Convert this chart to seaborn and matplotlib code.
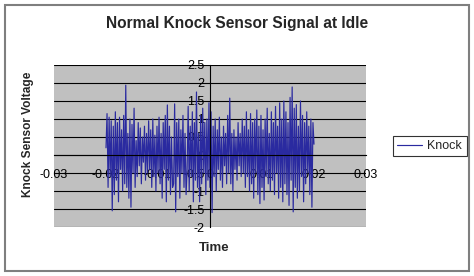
import numpy as np
import pandas as pd
import matplotlib
matplotlib.use("Agg")
import matplotlib.pyplot as plt
import seaborn as sns
from matplotlib.patches import Rectangle

# ---- data ----
t_start = -0.02
t_step = 0.0002
knock_voltage = [
    0.2, 1.15, -0.9, 1.05, -0.6, 0.95, -1.55, 0.8, -1.1, 1.2,
    -0.7, 0.9, -1.3, 1.05, -0.4, 0.7, -1.0, 1.1, -0.8, 1.94,
    -0.9, 0.6, -1.2, 1.0, -1.45, 0.85, -0.5, 1.3, -0.9, 0.4,
    -0.6, 0.9, -0.3, 0.75, -0.8, 0.5, -0.2, 0.8, -0.7, 0.6,
    -0.5, 0.95, -0.4, 0.7, -0.9, 1.0, -0.6, 0.55, -1.0, 0.8,
    -0.5, 1.05, -0.8, 0.6, -1.2, 0.9, -0.4, 1.1, -1.3, 1.39,
    -0.7, 0.8, -1.1, 0.5, -0.9, -0.8, 1.42, -1.58, 0.9, -0.6,
    1.0, -1.2, 0.7, -0.5, 1.1, -0.9, 0.6, -1.1, -0.4, 1.35,
    -1.0, 0.8, -0.6, 1.2, -1.3, 0.9, -0.7, 1.75, -0.9, 0.6,
    -1.3, 1.1, -0.8, 1.3, -0.5, 0.9, -1.1, 1.0, -0.7, 1.45,
    -0.9, 1.2, -1.6, 0.8, -0.6, 1.0, -1.0, 0.7, -0.4, 1.05,
    -0.7, 0.5, -0.9, 0.8, -0.3, 0.6, -0.8, 1.1, -0.5, 1.58,
    -0.8, 0.6, -1.0, 0.7, -0.4, 0.5, -0.7, 0.9, -0.3, 0.6,
    -0.6, 1.0, -0.5, 0.8, -0.9, 1.2, -0.6, 0.7, -1.0, 1.15,
    -0.8, 0.9, -1.2, 1.0, -0.5, 1.25, -1.1, 0.8, -1.35, 1.1,
    -0.9, 0.7, -1.25, 1.0, -0.6, 1.3, -0.8, 0.6, -1.0, 1.2,
    -0.7, 0.9, -1.1, 1.35, -0.5, 0.8, -1.2, 1.45, -0.9, 1.0,
    -1.3, 1.5, -0.8, 1.2, -1.1, 0.9, -1.4, 1.6, -0.7, 1.89,
    -1.58, 1.3, -0.9, 1.4, -1.2, 0.8, -1.0, 1.5, -0.6, 1.1,
    -1.3, 0.9, -0.8, 1.2, -0.5, 0.8, -1.1, 1.0, -1.45, 0.9,
    0.3,
]
time = [round(t_start + t_step * i, 6) for i in range(len(knock_voltage))]
x_ticks = [-0.03, -0.02, -0.01, 0, 0.01, 0.02, 0.03]
x_tick_labels = ["-0.03", "-0.02", "-0.01", "0", "0.01", "0.02", "0.03"]
y_ticks = [-2, -1.5, -1, -0.5, 0, 0.5, 1, 1.5, 2, 2.5]
y_tick_labels = ["-2", "-1.5", "-1", "-0.5", "0", "0.5", "1", "1.5", "2", "2.5"]

df = pd.DataFrame({"Time": time, "Voltage": knock_voltage})

sns.set_style("white")
plt.rcParams["font.family"] = ["Liberation Sans", "DejaVu Sans"]

W, H = 474, 276
fig = plt.figure(figsize=(W / 100, H / 100), dpi=100)
fig.patch.set_facecolor("white")

left, right, top, bottom = 54, 366, 65, 227
ax = fig.add_axes([left / W, 1 - bottom / H, (right - left) / W, (bottom - top) / H])
ax.set_facecolor("#C0C0C0")

line_color = "#2a2aa0"
sns.lineplot(data=df, x="Time", y="Voltage", ax=ax, color=line_color,
             linewidth=0.85, label="Knock", sort=False, zorder=2)

ax.set_xlim(-0.03, 0.03)
ax.set_ylim(-2, 2.5)

# horizontal gridlines
for yv in y_ticks:
    ax.axhline(yv, color="black", linewidth=0.8, zorder=1)

# axes crossing at zero (Excel style)
for s in ["top", "right"]:
    ax.spines[s].set_visible(False)
ax.spines["left"].set_position(("data", 0))
ax.spines["bottom"].set_position(("data", 0))
for s in ["left", "bottom"]:
    ax.spines[s].set_color("black")
    ax.spines[s].set_linewidth(0.8)
    ax.spines[s].set_zorder(3)

ax.set_xticks(x_ticks)
ax.set_xticklabels(x_tick_labels)
ax.set_yticks(y_ticks)
ax.set_yticklabels(y_tick_labels)
ax.tick_params(axis="both", direction="out", length=3, width=0.8,
               labelsize=9, colors="black")
ax.tick_params(axis="x", pad=7)
ax.tick_params(axis="y", pad=1)

ax.set_xlabel("")
ax.set_ylabel("")

# titles
fig.text(237 / W, 1 - 24 / H, "Normal Knock Sensor Signal at Idle",
         ha="center", va="center", fontsize=11.2, fontweight="bold")
fig.text(214 / W, 1 - 248 / H, "Time", ha="center", va="center",
         fontsize=9.5, fontweight="bold")
fig.text(28 / W, 1 - 134 / H, "Knock Sensor Voltage", ha="center", va="center",
         rotation=90, fontsize=8.6, fontweight="bold")

# legend
ax.legend(loc="center left", bbox_to_anchor=(393 / W, 1 - 146 / H),
          bbox_transform=fig.transFigure, frameon=True, fancybox=False,
          edgecolor="black", fontsize=9, handlelength=2.0, borderpad=0.35,
          handletextpad=0.4, borderaxespad=0)
leg = ax.get_legend()
leg.get_frame().set_linewidth(0.8)

# chart-area border
fig.patches.append(Rectangle((5 / W, 5 / H), (W - 10) / W, (H - 10) / H,
                             transform=fig.transFigure, fill=False,
                             edgecolor="#7f7f7f", linewidth=1.5))

fig.savefig("out.png", dpi=100)
